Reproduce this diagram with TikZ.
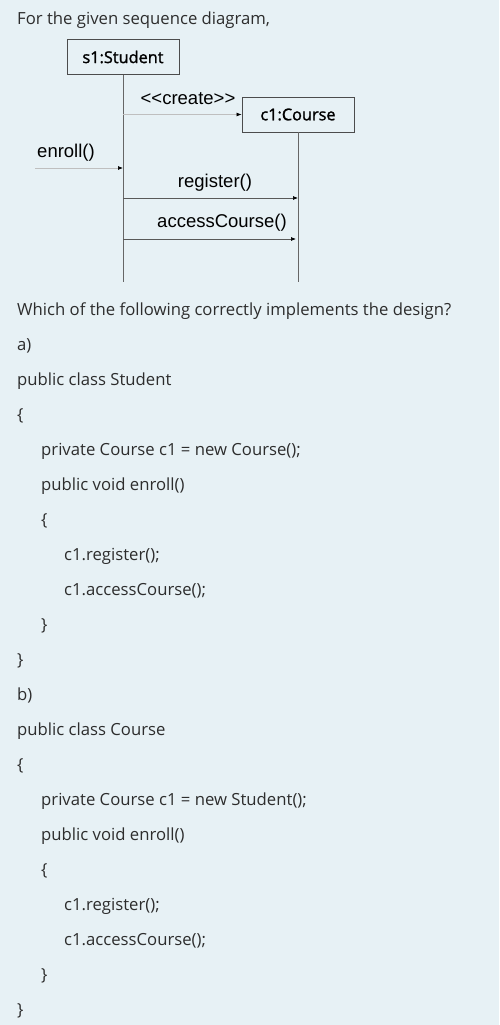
\documentclass[tikz,border=0pt]{standalone}
\usepackage{fontspec}
\setmainfont{Open Sans}
\newfontfamily\umlfont{Liberation Sans}
\newfontfamily\boxfont[FakeBold=1.5]{Open Sans}
\usetikzlibrary{arrows.meta, positioning}
\definecolor{pagebg}{RGB}{231,241,245}
\definecolor{textgray}{RGB}{45,45,45}
\tikzset{
    % Question and code lines
    qtext/.style={anchor=base west, inner sep=0pt, text=textgray,
        font=\fontsize{16.7}{20}\selectfont},
    % Object box on top of a lifeline
    objbox/.style={rectangle, draw=black!70, fill=pagebg, line width=0.9pt,
        minimum width=112pt, minimum height=35pt, inner sep=0pt,
        font=\boxfont\fontsize{16.3}{19}\selectfont},
    % Lifeline
    lifeline/.style={black!60, line width=0.8pt},
    % Messages
    msg/.style={-{Latex[length=5pt, width=4pt, color=black]}, black!65, line width=0.7pt},
    msgfaint/.style={-{Latex[length=5pt, width=4pt, color=black]}, black!25, line width=0.7pt},
    msglabel/.style={font=\umlfont\fontsize{18.5}{20}\selectfont, inner sep=0pt},
}
\begin{document}
\begin{tikzpicture}[x=1pt, y=-1pt]
    \fill[pagebg] (0,0) rectangle (499,1025);
    \node[qtext] (intro) at (17,25) {For the given sequence diagram,};

    % sequence diagram
    \node[objbox] (s1) at (123,57) {s1:Student};
    \node[objbox] (c1) at (298,114.5) {c1:Course};
    \coordinate (s1end) at (123,282);
    \coordinate (c1end) at (298,282);
    \draw[lifeline] (s1) -- (s1end);
    \draw[lifeline] (c1) -- (c1end);

    \draw[msgfaint] (s1 |- c1) -- (c1);
    \node[msglabel] (createlbl) at (188,99) {<<create>>};

    \coordinate (enrollfrom) at (35,168);
    \draw[msgfaint] (enrollfrom) -- (enrollfrom -| s1);
    \node[msglabel] (enrolllbl) at (66,153) {enroll()};

    \coordinate (regfrom) at (123,198);
    \draw[msg] (regfrom) -- (regfrom -| c1);
    \node[msglabel] (reglbl) at (215,183) {register()};

    \coordinate (accfrom) at (123,239);
    \draw[msg, shorten >=2pt] (accfrom) -- (accfrom -| c1);
    \node[msglabel] (acclbl) at (222,223) {accessCourse()};

    % question
    \node[qtext] (question) at (17,315) {Which of the following correctly implements the design?};
    \node[qtext] (opta) at (17,350) {a)};
    \node[qtext] (clsa) at (17,385) {public class Student};
    \node[qtext] (clsaopen) at (17,420) {\{};
    \node[qtext] (fielda) at (41,455) {private Course c1 = new Course();};
    \node[qtext] (metha) at (41,490) {public void enroll()};
    \node[qtext] (methaopen) at (41,525) {\{};
    \node[qtext] (rega) at (64,560) {c1.register();};
    \node[qtext] (acca) at (64,595) {c1.accessCourse();};
    \node[qtext] (methaclose) at (41,630) {\}};
    \node[qtext] (clsaclose) at (17,665) {\}};

    \node[qtext] (optb) at (17,700) {b)};
    \node[qtext] (clsb) at (17,735) {public class Course};
    \node[qtext] (clsbopen) at (17,770) {\{};
    \node[qtext] (fieldb) at (41,805) {private Course c1 = new Student();};
    \node[qtext] (methb) at (41,840) {public void enroll()};
    \node[qtext] (methbopen) at (41,875) {\{};
    \node[qtext] (regb) at (64,910) {c1.register();};
    \node[qtext] (accb) at (64,945) {c1.accessCourse();};
    \node[qtext] (methbclose) at (41,980) {\}};
    \node[qtext] (clsbclose) at (17,1015) {\}};
\end{tikzpicture}
\end{document}
